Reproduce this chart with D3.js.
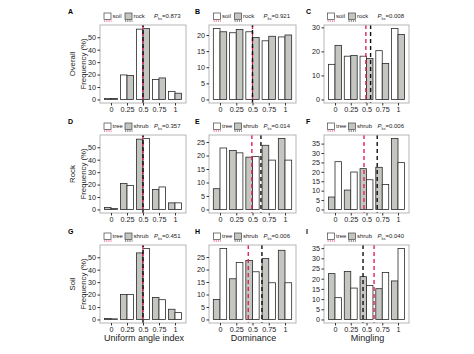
<!DOCTYPE html>
<html><head><meta charset="utf-8">
<script src="https://cdn.jsdelivr.net/npm/d3@7"></script>
<style>body{margin:0;background:#fff}svg{display:block;font-family:"Liberation Sans",Arial,sans-serif}</style>
</head><body><svg id="c" width="474" height="354"></svg>
<script>
const categories = ["0","0.25","0.5","0.75","1"];
const xValues = [0,0.25,0.5,0.75,1];

// Overall (soil vs rock)
const uaiSoil = [0.8, 19.7, 56.5, 16.0, 6.5];
const uaiRock = [0.8, 19.2, 57.0, 17.3, 5.0];
const domSoil = [22.0, 20.7, 21.0, 18.2, 19.4];
const domRock = [21.0, 21.7, 19.2, 19.6, 20.0];
const minSoil = [14.6, 18.0, 18.0, 20.3, 29.5];
const minRock = [22.5, 18.3, 17.0, 15.0, 27.0];
// Rock habitat (shrub vs tree)
const rockUaiShrub = [1.5, 20.8, 56.5, 16.0, 5.3];
const rockUaiTree  = [0.8, 19.2, 57.0, 18.1, 5.3];
const rockDomShrub = [7.7, 21.9, 19.4, 23.8, 26.3];
const rockDomTree  = [22.8, 21.0, 19.6, 18.3, 18.3];
const rockMinShrub = [6.6, 10.3, 21.7, 22.4, 37.7];
const rockMinTree  = [25.4, 19.9, 15.8, 13.3, 24.9];
// Soil habitat (shrub vs tree)
const soilUaiShrub = [0.7, 20.0, 53.5, 17.6, 8.2];
const soilUaiTree  = [0.5, 20.0, 57.0, 15.9, 5.5];
const soilDomShrub = [8.0, 16.3, 23.6, 24.4, 27.7];
const soilDomTree  = [28.4, 22.8, 19.1, 14.7, 14.7];
const soilMinShrub = [22.5, 23.5, 21.0, 15.1, 18.9];
const soilMinTree  = [10.7, 15.4, 16.7, 23.0, 34.8];

// mean lines [red, black] per panel A..I
const redLines   = [0.5, 0.5, 0.49, 0.5, 0.49, 0.46, 0.5, 0.435, 0.62];
const blackLines = [0.5, 0.5, 0.565, 0.5, 0.63, 0.67, 0.5, 0.645, 0.445];
const pValues = ["0.873","0.921","0.008","0.357","0.014","0.006","0.451","0.006","0.040"];
const yTickSteps = [10, 5, 10, 10, 5, 5, 10, 5, 5];
const panelLetters = ["A","B","C","D","E","F","G","H","I"];
const rowNames = ["Overall","Rock","Soil"];
const xTitles = ["Uniform angle index","Dominance","Mingling"];
const legendNames = [["soil","rock"],["tree","shrub"],["tree","shrub"]];

const WHITE = "#ffffff", GREY = "#c3c6c1", RED = "#e2245a";

// left bar first
const panelSeries = [
  [[uaiSoil, WHITE],[uaiRock, GREY]],
  [[domSoil, WHITE],[domRock, GREY]],
  [[minSoil, WHITE],[minRock, GREY]],
  [[rockUaiShrub, GREY],[rockUaiTree, WHITE]],
  [[rockDomShrub, GREY],[rockDomTree, WHITE]],
  [[rockMinShrub, GREY],[rockMinTree, WHITE]],
  [[soilUaiShrub, GREY],[soilUaiTree, WHITE]],
  [[soilDomShrub, GREY],[soilDomTree, WHITE]],
  [[soilMinShrub, GREY],[soilMinTree, WHITE]]
];

const colLeft = [100, 209, 324], colRight = [186, 296, 409];
const rowTop = [25, 135, 245], plotH = 78;
const letterX = [68, 195, 306];

const svg = d3.select("#c");

panelSeries.forEach((series, p) => {
  const r = Math.floor(p / 3), c = p % 3;
  const L = colLeft[c], R = colRight[c], T = rowTop[r], B = T + plotH;
  const x = d3.scaleLinear().domain([0, 1]).range([L + 11, R - 11]);
  const step = x(0.25) - x(0);
  const bw = step * 0.41;
  const maxV = d3.max(series.flatMap(s => s[0]));
  const y = d3.scaleLinear().domain([-0.05 * maxV, 1.05 * maxV]).range([B, T]);
  const g = svg.append("g");

  // bars
  series.forEach(([vals, fill], si) => {
    g.selectAll(null).data(vals).enter().append("rect")
      .attr("x", (d, i) => x(xValues[i]) - bw + si * bw)
      .attr("width", bw)
      .attr("y", d => y(d))
      .attr("height", d => y(0) - y(d))
      .attr("fill", fill).attr("stroke", "#2a2a2a").attr("stroke-width", 0.8);
  });

  // mean lines
  g.append("line").attr("x1", x(redLines[p])).attr("x2", x(redLines[p]))
    .attr("y1", T).attr("y2", B).attr("stroke", RED).attr("stroke-width", 1.4)
    .attr("stroke-dasharray", "4,3");
  g.append("line").attr("x1", x(blackLines[p])).attr("x2", x(blackLines[p]))
    .attr("y1", T).attr("y2", B).attr("stroke", "#111").attr("stroke-width", 1.4)
    .attr("stroke-dasharray", "4,3")
    .attr("stroke-dashoffset", redLines[p] === blackLines[p] ? 2 : 0);

  // border
  g.append("rect").attr("x", L).attr("y", T).attr("width", R - L).attr("height", plotH)
    .attr("fill", "none").attr("stroke", "#b5b5b5").attr("stroke-width", 1);

  // axes
  const yTicks = d3.range(0, 1.05 * maxV + 0.001, yTickSteps[p]);
  const ya = g.append("g").attr("transform", `translate(${L},0)`)
    .call(d3.axisLeft(y).tickValues(yTicks).tickSize(2.5).tickPadding(1.5));
  const xa = g.append("g").attr("transform", `translate(0,${B})`)
    .call(d3.axisBottom(x).tickValues(xValues).tickFormat((d, i) => categories[i]).tickSize(2.5).tickPadding(1.5));
  [ya, xa].forEach(a => {
    a.select(".domain").remove();
    a.selectAll(".tick line").attr("stroke", "#333");
    a.selectAll(".tick text").attr("fill", "#222").style("font-size", "7.2px")
      .style("font-family", '"Liberation Sans",Arial,sans-serif');
  });

  // legend
  const cx = (L + R) / 2;
  const names = legendNames[r];
  const lg = g.append("g").style("font-size", "6px").attr("fill", "#222");
  const keys = [[cx - 39, names[0], WHITE, RED], [cx - 18, names[1], GREY, "#111"]];
  keys.forEach(([kx, name, fill, lc]) => {
    lg.append("rect").attr("x", kx).attr("y", T - 12).attr("width", 7).attr("height", 6.5)
      .attr("fill", fill).attr("stroke", "#444").attr("stroke-width", 0.7);
    lg.append("line").attr("x1", kx).attr("x2", kx + 7.5).attr("y1", T - 4).attr("y2", T - 4)
      .attr("stroke", lc).attr("stroke-width", 0.9).attr("stroke-dasharray", "1.2,1");
    lg.append("text").attr("x", kx + 8.5).attr("y", T - 6.6).text(name);
  });
  const pt = lg.append("text").attr("x", cx + 11).attr("y", T - 6.6).style("font-size", "6px");
  pt.append("tspan").style("font-style", "italic").text("P");
  pt.append("tspan").attr("dy", 1.5).style("font-size", "4px").text("ks");
  pt.append("tspan").attr("dy", -1.5).text("=" + pValues[p]);

  // panel letter
  svg.append("text").attr("x", letterX[c]).attr("y", T - 11)
    .style("font-size", "7px").style("font-weight", "bold").text(panelLetters[p]);

  // row labels
  if (c === 0) {
    const my = (T + B) / 2;
    svg.append("text").attr("transform", `translate(75,${my}) rotate(-90)`)
      .attr("text-anchor", "middle").style("font-size", "7.8px").attr("fill", "#222").text(rowNames[r]);
    svg.append("text").attr("transform", `translate(86,${my}) rotate(-90)`)
      .attr("text-anchor", "middle").style("font-size", "7.8px").attr("fill", "#222").text("Frequency (%)");
  }
  // x titles
  if (r === 2) {
    svg.append("text").attr("x", (L + R) / 2 + 1).attr("y", 341).attr("text-anchor", "middle")
      .style("font-size", "9px").attr("fill", "#222").text(xTitles[c]);
  }
});
</script></body></html>
